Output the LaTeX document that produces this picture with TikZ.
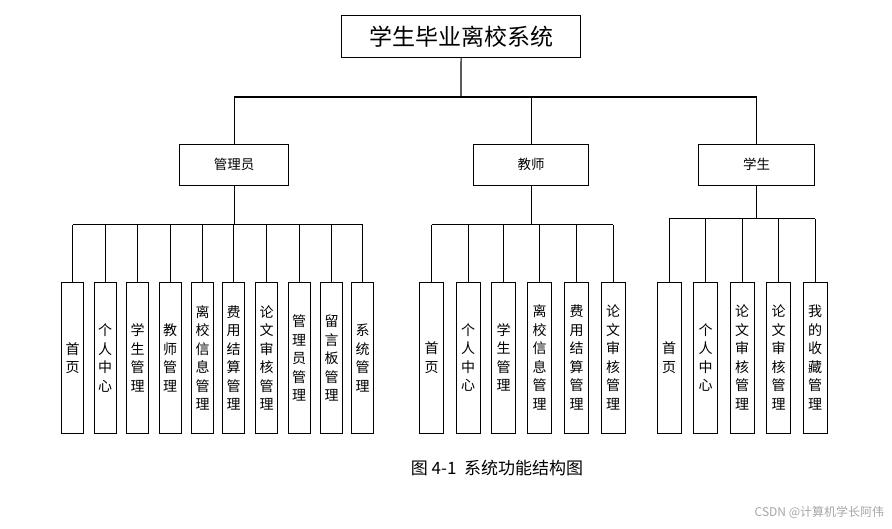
\documentclass[tikz,border=0pt]{standalone}
\usepackage{fontspec}
\setmainfont{Noto Sans CJK SC}
\begin{document}
\begin{tikzpicture}[x=1pt,y=-1pt,line width=1.1pt,
  box/.style={draw,inner sep=0pt,anchor=north west},
  leaf/.style={draw,inner sep=0pt,anchor=north west,align=center,font=\fontsize{14}{18.5}\selectfont},
  conn/.style={draw,line width=1.1pt}]
\useasboundingbox (0,0) rectangle (892,528);
\node[box,minimum width=239pt,minimum height=42pt,font=\fontsize{23}{26}\selectfont] (root) at (341,15) {学生毕业离校系统};
\node[box,minimum width=109pt,minimum height=41pt,font=\fontsize{13.5}{16}\selectfont] (m1) at (179,143.5) {管理员};
\node[box,minimum width=115pt,minimum height=41pt,font=\fontsize{13.5}{16}\selectfont] (m2) at (473,143.5) {教师};
\node[box,minimum width=116pt,minimum height=41pt,font=\fontsize{13.5}{16}\selectfont] (m3) at (698,143.5) {学生};
\coordinate (j0) at (461,97);
\draw[conn] (root.south) -- (j0);
\draw[conn] (m1.north) |- (j0) -| (m3.north);
\draw[conn] (j0) -| (m2.north);
% admin leaves
\foreach \i/\x/\t in {1/61/首\\页,2/93.5/个\\人\\中\\心,3/126/学\\生\\管\\理,4/158.5/教\\师\\管\\理,5/191/离\\校\\信\\息\\管\\理,6/222/费\\用\\结\\算\\管\\理,7/255/论\\文\\审\\核\\管\\理,8/287.5/管\\理\\员\\管\\理,9/320/留\\言\\板\\管\\理,10/351/系\\统\\管\\理}{
  \node[leaf,minimum width=22pt,minimum height=151pt] (a\i) at (\x,282) {\t};
  \draw[conn] (a\i.north) -- ++(0,-57.5) coordinate (ta\i);
}
\draw[conn] (ta1) -- (ta10);
\draw[conn] (m1.south) -- (m1.south |- ta1);
% teacher leaves
\foreach \i/\x/\t in {1/419/首\\页,2/455.5/个\\人\\中\\心,3/491/学\\生\\管\\理,4/527/离\\校\\信\\息\\管\\理,5/564/费\\用\\结\\算\\管\\理,6/600.5/论\\文\\审\\核\\管\\理}{
  \node[leaf,minimum width=24pt,minimum height=151pt] (b\i) at (\x,281.5) {\t};
  \draw[conn] (b\i.north) -- ++(0,-57) coordinate (tb\i);
}
\draw[conn] (tb1) -- (tb6);
\draw[conn] (m2.south) -- (m2.south |- tb1);
% student leaves
\foreach \i/\x/\t in {1/656.5/首\\页,2/693/个\\人\\中\\心,3/729.5/论\\文\\审\\核\\管\\理,4/766/论\\文\\审\\核\\管\\理,5/802.5/我\\的\\收\\藏\\管\\理}{
  \node[leaf,minimum width=24pt,minimum height=151pt] (c\i) at (\x,281.5) {\t};
  \draw[conn] (c\i.north) -- ++(0,-62.8) coordinate (tc\i);
}
\draw[conn] (tc1) -- (tc5);
\draw[conn] (m3.south) -- (m3.south |- tc1);
\node[font=\fontsize{17}{20}\selectfont] (cap) at (497,468) {图 4-1\ \ 系统功能结构图};
\node[font=\fontsize{12}{14}\selectfont,text=gray!70,anchor=east] (wm) at (888,512) {CSDN @计算机学长阿伟};
\end{tikzpicture}
\end{document}
